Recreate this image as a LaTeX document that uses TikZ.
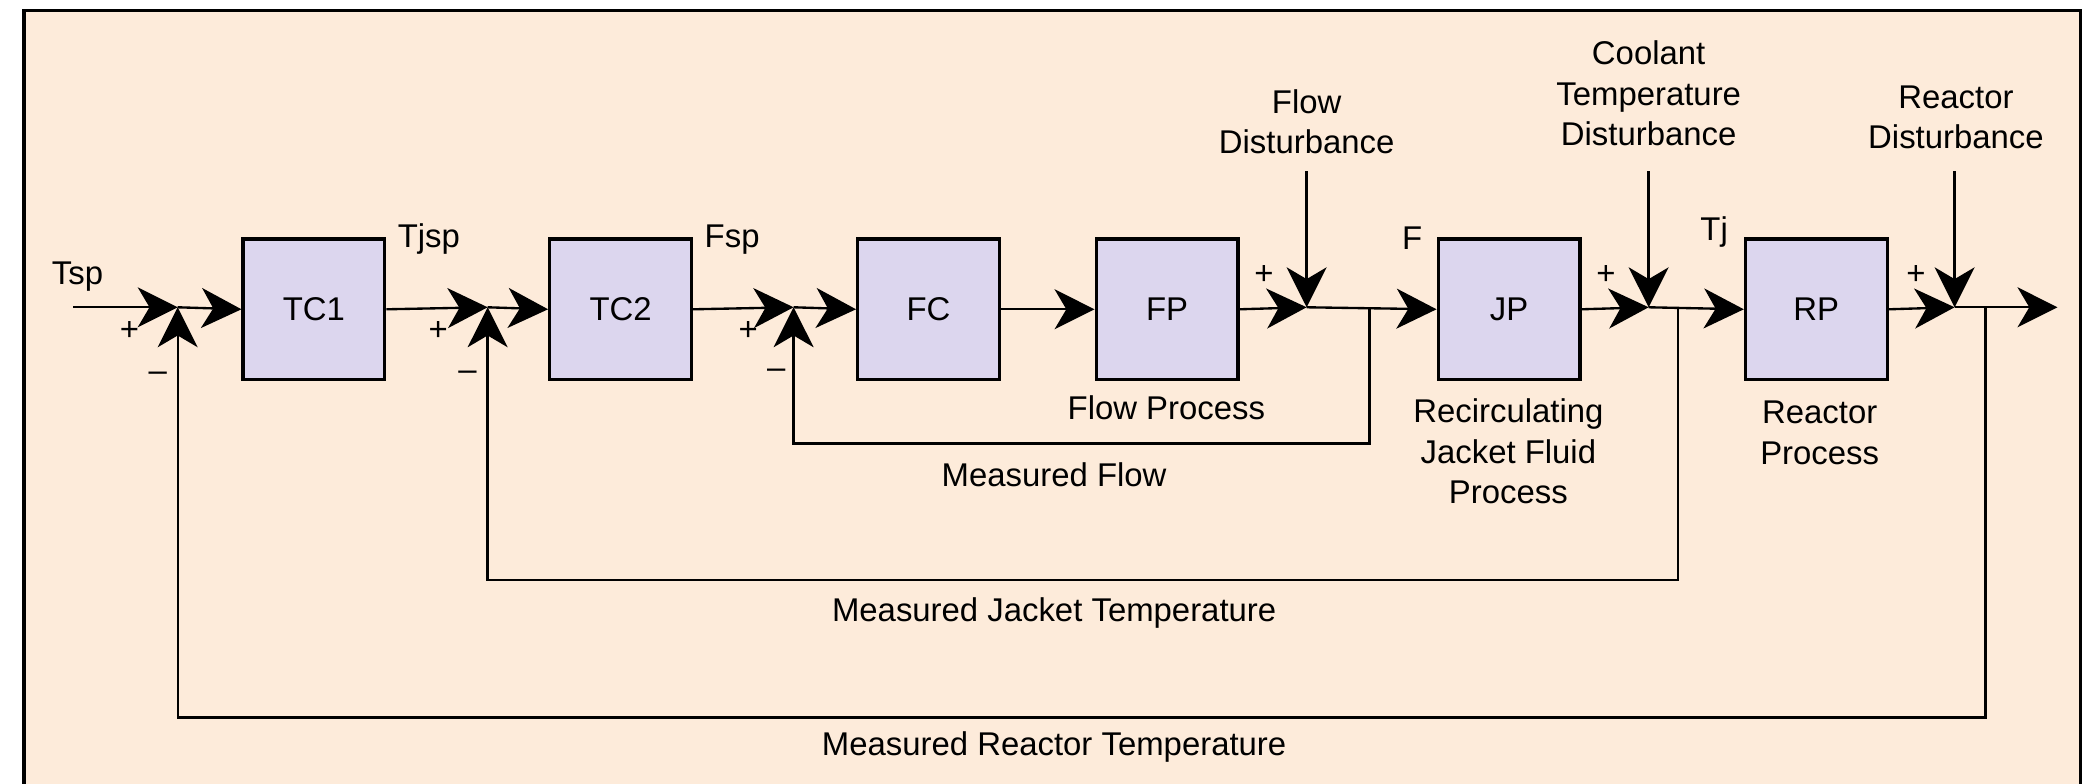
\documentclass[tikz,border=0pt]{standalone}
\usepackage{fontspec}
\setmainfont{Liberation Sans}
\usetikzlibrary{arrows.meta}
\definecolor{bg}{HTML}{FDEBDA}
\definecolor{blk}{HTML}{DCD6EE}
\begin{document}
\begin{tikzpicture}[x=0.01cm,y=-0.01cm,
  font=\fontsize{7.0}{8.6}\selectfont,
  blk/.style={draw,line width=0.7pt,fill=blk,minimum width=1.06cm,minimum height=1.05cm,inner sep=0pt},
  ln/.style={line width=0.5pt},
  ar/.style={ln,-{Stealth[length=8.5pt,width=8.5pt,inset=2.5pt]}},
  lbl/.style={align=center,inner sep=0pt}]
\useasboundingbox (0,0) rectangle (1560.6,586.8);
\fill[bg] (18,8) rectangle (1557,587);
\draw[line width=0.7pt] (18,600) -- (18,8) -- (1557,8) -- (1557,600);
% blocks
\node[blk] (tc1) at (235,231.5) {TC1};
\node[blk] (tc2) at (464.5,231.5) {TC2};
\node[blk] (fc) at (695,231.5) {FC};
\node[blk] (fp) at (873.5,231.5) {FP};
\node[blk] (jp) at (1129.5,231.5) {JP};
\node[blk] (rp) at (1359.5,231.5) {RP};
% junctions and points
\coordinate (in) at (55,230);
\coordinate (s1) at (133,230);
\coordinate (s2) at (365,230);
\coordinate (s3) at (594,230);
\coordinate (s4) at (978,230);
\coordinate (s5) at (1234,230);
\coordinate (s6) at (1463,230);
\coordinate (b1) at (1025,230);
\coordinate (b2) at (1256,230);
\coordinate (b3) at (1486,230);
\coordinate (out) at (1540,230);
\coordinate (d1) at (978,128);
\coordinate (d2) at (1234,128);
\coordinate (d3) at (1463,128);
% forward path
\draw[ar] (in) -- (s1);
\draw[ar] (s1) -- (tc1.west);
\draw[ar] (tc1.east) -- (s2);
\draw[ar] (s2) -- (tc2.west);
\draw[ar] (tc2.east) -- (s3);
\draw[ar] (s3) -- (fc.west);
\draw[ar] (fc.east) -- (fp.west);
\draw[ar] (fp.east) -- (s4);
\draw[ar] (s4) -- (jp.west);
\draw[ar] (jp.east) -- (s5);
\draw[ar] (s5) -- (rp.west);
\draw[ar] (rp.east) -- (s6);
\draw[ar] (s6) -- (out);
% disturbances
\draw[ar] (d1) -- (s4);
\draw[ar] (d2) -- (s5);
\draw[ar] (d3) -- (s6);
% feedback
\draw[ar] (b1) -- (1025,332) -| (s3);
\draw[ar] (b2) -- (1256,434) -| (s2);
\draw[ar] (b3) -- (1486,537) -| (s1);
% labels
\node[lbl] (lTsp) at (58,207) {Tsp};
\node[lbl] (lTjsp) at (321,179) {Tjsp};
\node[lbl] (lFsp) at (548,179) {Fsp};
\node[lbl] (lF) at (1057,178) {F};
\node[lbl] (lTj) at (1283,174) {Tj};
\node[lbl] (p1) at (97,248) {+};
\node[lbl] (m1) at (118,282) {–};
\node[lbl] (p2) at (328,248) {+};
\node[lbl] (m2) at (350,281) {–};
\node[lbl] (p3) at (560,248) {+};
\node[lbl] (m3) at (581,280) {–};
\node[lbl] (p4) at (946,206) {+};
\node[lbl] (p5) at (1202,206) {+};
\node[lbl] (p6) at (1434,206) {+};
\node[lbl] (lfd) at (978,91) {Flow\\Disturbance};
\node[lbl] (lcd) at (1234,70) {Coolant\\Temperature\\Disturbance};
\node[lbl] (lrd) at (1464,88) {Reactor\\Disturbance};
\node[lbl] (lfp) at (873,305) {Flow Process};
\node[lbl] (ljp) at (1129,338) {Recirculating\\Jacket Fluid\\Process};
\node[lbl] (lrp) at (1362,324) {Reactor\\Process};
\node[lbl] (lmf) at (789,355) {Measured Flow};
\node[lbl] (lmj) at (789,459) {Measured Jacket Temperature};
\node[lbl] (lmr) at (789,559) {Measured Reactor Temperature};
\end{tikzpicture}
\end{document}
